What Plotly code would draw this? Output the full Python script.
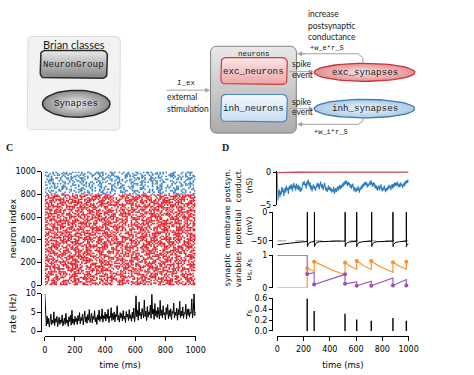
import numpy as np
import plotly.graph_objects as go

W, H = 474, 375

# ------------------------------------------------------------------ data
# Panel C: raster (hex-encoded spike bitmap, 10 ms bins x 12.5-neuron rows)
raster_exc_rows = [
    "9b3e1c7a52d8f04e6a1b3c9d7", "4f2a8c61e9b05d37a2c8f164b", "c71d3b9e0a48f26d5c1e7b93a",
    "2e8f5a13c6d97b04e2a5f8c36", "a5c09e7b2d4f1836ac5e9b27d", "63b8d1f4a07c2e95b3d6a18ec",
    "e1947c2b8f5a3d60e7c14b9a2", "5d2ab83e61c9f047d2e5a83bc", "b86e1f4c3a972d5e0b6c8f14a",
    "3f7c5a9d2e18b46a3c9e7d250", "8a41e6c3b7f029d5a8e3c6b17", "d2f97b15a6c48e3b0d7a2e9f4",
    "17c3ad8e5b294f61c7e3a5d8b", "f64b2c9a7e13d58b6f2c94a0e", "4a9e7d03c5f82b6e1a4d7c93f",
    "9c25f8b1e6a3d74c2f9b05e8a", "2b7d4e9c0f6a18e3b5c7d2a96", "e58a3c7f2d91b6e4a0c8f35d1",
    "7e13b9d64a2cf85e7b31d9a4c", "c4a6e2f8b53d907c4e1a6b28f", "58d1f7a3c9e26b4d85f3a1c7e",
    "a37c9b5e2f814d6a3c7e9b05d", "1f9e4a6d8c35b72e1f8d4a6c3", "b62d8f3a1e7c94b0d6a2f5e8c",
    "6c4f1b9e7a25d38c6f4b1e9a7", "d9a37e5c2b8f16a4d9e3c7b52", "3b8e6c1a9f4d27e5b8c1a6f3d",
    "8f52a4d7e3c196b8f2a5d4e7c", "e7c19b36a5d8f24c7e9b3a1d6", "4d6a2f8c1b97e35a4d6f2c8b9",
    "a19e7c4d35b2f86a1e9c7d4f2", "5f3b8e2a9c6d14f5b3e8a2c9d", "c82d5a7f1e4b96c8d2a7f5e3b",
    "27e9c3b6d8a51f27e3c9b6a8d", "9a4f6e1c2d7b38a9f4e6c1d2b", "e3b5d9a7c2f641e8b5d0a7c2f",
    "6d1a8f3e5bc92746d1f8a3e5c", "b2f7c4e9a1d6835b2c7f4e9a0", "1c8e3a5d7f29b4c1e8a3d5f7b",
    "f5a2d7c1b8e394f5d2a7c1e8b", "47b9e1a3f6c5d827b4e9a1f3c", "8e3c6b5d2a9f714e8c3b6d5a2",
    "d6f1a8b4c3e2957d6a1f8c4b3", "2a9d73f6e1b84c52d9a7f3e6b", "c1e5b9d8a2f7364c5e1d9b8a2",
    "5b7f3e2c6da19a48f7b3c2e6d", "9e2a8c5b1f4d763e9a2c5f8b1", "e4c6d1a9f3b5827a4e6c1d9f3",
    "36a8fb2d5c9e1e47a3f82b5dc", "a8d3c6f1b92e75a8c3d6f1a9b", "7f1b9a4e2dc63f81b7a9e4d2c",
    "d3e8a5c7b1f92d6e3a8c5b7f1", "1b6c4e8f3a7d59b2c6b4a8e3f", "f9a5e2d4c8b13a79e5f2d4b8c",
    "64d2b7f9e1c8a564b2d7e9f1a", "b7e3f1a6d5c2984f7b3e1d6a5", "2c9a1d5b8e3f7c6a2c9d5e8b3",
    "e8f4c6b2a7d193e8c4f6a2b7d", "5a3d7f9c1e6b82a5d3a7f9e1c", "9d6b3a2e8f14c7d9b6d3e2a8f",
    "c5f8e3b7d2a964fc8e5b3d7a2", "3e2a9c8d6bf5173e9a2dc6b8f", "a7c4b5e1f9d83a6b7c4e1f5d9",
    "6b9f2d3a7ce45b86f2b9a3d7e",
]
raster_inh_rows = [
    "4a1820c5139204a8610c25a83", "91048a2c065038124c9a06148", "2c6051894a0a263c05189a241",
    "8052c3a1096c0841a52c03986", "531a08c2450968a1c034a5812", "0a9c42150c8a3160492c51a08",
    "c2083a65140c9825a10c4836a", "16a520948c32a05c81640a25c", "a40c91532a80c461a9230548a",
    "3850a6c0184a5290c36a18042", "5c2148a0631950ca2684c1a39", "09a361c852a0c416a35804a1c",
    "68145a290c5386a0c2149a563", "a2c905418a2c0698a5103c84a", "1496c0a25a8c1325096a1c248",
    "c50a2a8c361a490c5a2a8613c",
]
raster_bin_ms = 10
raster_row_neurons = 12.5

# Panel C: population rate (Hz), every 5 ms
rate_t = list(range(0, 1001, 5))
rate_hz = [
    10, 3.2, 1.5, 4.1, 2.0, 3.5, 1.2, 2.8, 4.6, 1.8, 3.0, 2.2, 5.2, 1.6, 3.4, 2.5, 4.0, 1.3, 2.9, 3.8, 1.9,
    3.1, 2.4, 4.4, 1.5, 2.7, 3.6, 1.9, 4.8, 2.3, 3.0, 1.4, 3.9, 2.6, 4.3, 1.7, 5.6, 2.2, 3.3, 1.8, 4.0,
    2.6, 3.5, 1.9, 4.2, 2.8, 5.0, 2.1, 3.7, 2.9, 4.6, 1.8, 3.4, 5.4, 2.5, 3.9, 2.2, 4.5, 3.0, 5.8, 2.4,
    3.6, 4.9, 2.3, 4.1, 3.2, 5.5, 2.6, 3.8, 1.9, 4.4, 3.1, 5.7, 2.7, 4.0, 3.3, 6.0, 2.5, 4.2, 3.4, 5.1,
    2.8, 4.6, 3.5, 5.9, 2.4, 4.0, 3.7, 6.3, 2.9, 4.8, 3.2, 5.2, 2.6, 4.5, 3.9, 6.8, 3.0, 4.3, 2.5, 5.0,
    3.6, 4.7, 2.8, 5.5, 3.3, 4.1, 2.4, 5.3, 3.8, 4.6, 2.9, 5.8, 3.4, 4.4, 2.7, 5.1, 3.5, 6.2, 2.6, 4.3,
    9.4, 3.9, 5.6, 3.0, 7.8, 4.2, 5.0, 3.3, 6.1, 4.5, 3.6, 8.3, 4.0, 5.4, 2.9, 6.6, 3.8, 5.2, 4.4, 7.0,
    3.5, 9.8, 4.6, 5.9, 3.2, 7.4, 4.1, 5.5, 3.7, 6.4, 4.8, 3.3, 8.2, 4.2, 5.7, 3.6, 6.8, 4.4, 5.0, 3.1,
    6.3, 4.5, 7.1, 3.4, 5.6, 4.0, 6.0, 3.2, 5.3, 4.7, 7.5, 3.6, 5.1, 4.2, 6.2, 3.0, 5.8, 4.4, 8.0, 3.7,
    5.4, 4.1, 6.5, 3.5, 5.0, 4.6, 7.2, 3.3, 5.9, 4.3, 6.0, 3.8, 5.2, 4.8, 8.6, 3.6, 5.5, 9.9, 4.2, 5.1,
]

# Panel D: postsynaptic conductances (nS)
g_t = list(range(0, 1001, 5))
g_inh = [
    0, -4.3, -3.2, -2.6, -3.8, -2.9, -3.4, -2.2, -3.0, -2.5, -3.6, -2.8, -2.3, -3.1, -2.0, -2.7, -2.4, -3.3, -2.1, -2.6, -1.9,
    -2.5, -1.8, -2.9, -2.2, -1.6, -2.4, -2.0, -2.8, -1.7, -2.3, -2.6, -1.9, -2.7, -2.1, -3.0, -2.4, -2.8, -2.2, -1.5, -1.9,
    -1.3, -2.0, -1.7, -2.5, -1.4, -1.9, -1.1, -1.6, -2.2, -1.5, -2.6, -2.0, -2.9, -2.3, -1.8, -2.5, -2.1, -2.8, -2.4, -1.9,
    -1.6, -2.3, -1.7, -2.6, -2.0, -1.4, -1.9, -2.4, -1.8, -2.7, -2.2, -1.6, -2.1, -2.8, -2.3, -3.0, -2.5, -2.0, -2.7, -2.2,
    -2.8, -2.4, -3.1, -2.6, -2.9, -2.2, -3.3, -2.7, -2.4, -3.0, -2.5, -2.1, -2.8, -2.3, -1.9, -2.6, -2.0, -2.4, -1.7, -2.2,
    -1.5, -2.0, -1.3, -1.8, -1.2, -1.7, -2.1, -1.4, -1.9, -1.6, -2.3, -1.8, -2.5, -2.0, -1.7, -2.4, -2.9, -2.2, -2.6, -3.0,
    -2.4, -2.8, -2.1, -2.6, -3.1, -2.3, -2.7, -2.0, -2.5, -1.8, -2.2, -1.6, -2.0, -1.4, -1.9, -1.5, -2.3, -1.7, -2.1, -1.8,
    -1.4, -1.9, -1.2, -1.7, -2.2, -1.5, -2.0, -1.6, -2.4, -1.9, -2.6, -2.1, -2.8, -2.3, -2.0, -2.7, -2.2, -1.8, -2.5, -2.9,
    -2.3, -2.7, -2.0, -2.5, -3.0, -2.4, -2.8, -2.2, -2.6, -1.9, -2.4, -2.0, -2.7, -2.1, -1.8, -2.5, -1.7, -2.2, -1.5, -2.0,
    -1.6, -2.1, -1.4, -1.9, -2.3, -1.7, -2.2, -1.5, -2.0, -1.8, -2.4, -1.9, -1.6, -2.1, -1.3, -1.8, -1.2, -1.6, -1.1, -1.5,
]
ge_t = list(range(0, 1001, 50))
g_exc = [0.0, 0.05, 0.03, 0.06, 0.04, 0.07, 0.05, 0.03, 0.06, 0.05, 0.08, 0.04,
         0.06, 0.05, 0.07, 0.04, 0.06, 0.05, 0.07, 0.05, 0.06]

# Panel D: membrane potential (mV)
v_t = [0, 20, 60, 100, 150, 200, 229, 229, 229.5, 231, 236, 246, 260, 283, 283, 283.5, 285, 290, 300, 320,
       360, 400, 450, 517, 517, 517.5, 519, 524, 534, 550, 580, 605, 605, 605.5, 607, 612, 622, 650, 690,
       719, 719, 719.5, 721, 726, 736, 760, 820, 881, 881, 881.5, 883, 888, 898, 930, 983, 983, 983.5,
       985, 990, 1000]
v_mV = [-57, -56, -55, -54, -53, -52, -51, 0, -60, -59, -56, -53, -52, -51, 0, -60, -59, -56, -53, -51.5,
        -51, -51, -50.5, -50.5, 0, -60, -59, -56, -53, -52, -51, -50.5, 0, -60, -59, -56, -53, -51.5, -51,
        -50.5, 0, -60, -59, -56, -53, -51.5, -51, -50.5, 0, -60, -59, -56, -53, -51.5, -50.5, 0, -60,
        -59, -56, -55]
v_threshold = -50

# Panel D: synaptic variables
u_t = [0, 228, 228, 281, 281, 330, 380, 430, 480, 516, 516, 560, 605, 605, 660, 716, 716, 760, 810, 881,
       881, 930, 983, 983, 995]
u_S = [0, 0, 0.6, 0.5, 0.8, 0.7, 0.6, 0.52, 0.45, 0.41, 0.77, 0.65, 0.56, 0.82, 0.67, 0.56, 0.82, 0.7,
       0.6, 0.47, 0.78, 0.66, 0.57, 0.8, 0.79]
x_t = [0, 228, 228, 281, 281, 400, 516, 516, 605, 605, 716, 716, 881, 881, 983, 983, 995]
x_S = [1, 1, 0.42, 0.46, 0.1, 0.26, 0.41, 0.12, 0.18, 0.06, 0.2, 0.06, 0.3, 0.07, 0.25, 0.07, 0.08]
spike_t = [228, 281, 516, 605, 716, 881, 983]
u_mark = [0.6, 0.8, 0.77, 0.82, 0.82, 0.78, 0.8]
x_mark_t = [228, 281, 516, 516, 605, 716, 881, 983]
x_mark = [0.42, 0.1, 0.41, 0.12, 0.06, 0.06, 0.07, 0.07]
r_S = [0.6, 0.37, 0.32, 0.21, 0.19, 0.24, 0.19]

# ------------------------------------------------------------------ helpers
def px(x):
    return x / W


def py(y):
    return 1 - y / H


def decode(rows, n0):
    ts, ns = [], []
    for r, s in enumerate(rows):
        s = s.replace(" ", "")
        bits = bin(int(s, 16))[2:].zfill(len(s) * 4)[:100]
        for k, b in enumerate(bits):
            if b == "1":
                ts.append(raster_bin_ms * k + raster_bin_ms / 2)
                ns.append(n0 + raster_row_neurons * r + raster_row_neurons / 2)
    return ts, ns


def rrect(x0, y0, x1, y1, r, n=7):
    xs, ys = [], []
    for cx, cy, a0, a1 in [(x1 - r, y0 + r, -90, 0), (x1 - r, y1 - r, 0, 90),
                           (x0 + r, y1 - r, 90, 180), (x0 + r, y0 + r, 180, 270)]:
        for a in np.radians(np.linspace(a0, a1, n)):
            xs.append(cx + r * np.cos(a))
            ys.append(cy + r * np.sin(a))
    xs.append(xs[0]); ys.append(ys[0])
    return xs, ys


def ell(cx, cy, rx, ry, n=60):
    a = np.linspace(0, 2 * np.pi, n)
    return list(cx + rx * np.cos(a)), list(cy + ry * np.sin(a))


fig = go.Figure()

# ------------------------------------------------------------------ panel C
ex_t, ex_n = decode(raster_exc_rows, 0)
in_t, in_n = decode(raster_inh_rows, 800)
fig.add_trace(go.Scatter(x=ex_t, y=ex_n, mode="markers", xaxis="x", yaxis="y",
                         marker=dict(size=1.8, color="#e3232b", line=dict(width=0))))
fig.add_trace(go.Scatter(x=in_t, y=in_n, mode="markers", xaxis="x", yaxis="y",
                         marker=dict(size=1.9, color="#3f86c4", line=dict(width=0))))
fig.add_trace(go.Scatter(x=rate_t, y=rate_hz, mode="lines", xaxis="x2", yaxis="y2",
                         line=dict(color="black", width=1)))

# ------------------------------------------------------------------ panel D
fig.add_trace(go.Scatter(x=g_t, y=g_inh, mode="lines", xaxis="x3", yaxis="y3",
                         line=dict(color="#2f7dc0", width=1.1)))
fig.add_trace(go.Scatter(x=ge_t, y=g_exc, mode="lines", xaxis="x3", yaxis="y3",
                         line=dict(color="#d0494c", width=1.3)))
fig.add_trace(go.Scatter(x=[0, 1000], y=[v_threshold, v_threshold], mode="lines", xaxis="x4", yaxis="y4",
                         line=dict(color="#999999", width=1, dash="dash")))
fig.add_trace(go.Scatter(x=v_t, y=v_mV, mode="lines", xaxis="x4", yaxis="y4",
                         line=dict(color="black", width=1)))
fig.add_trace(go.Scatter(x=x_t, y=x_S, mode="lines", xaxis="x5", yaxis="y5",
                         line=dict(color="#9b4fb3", width=1.1)))
fig.add_trace(go.Scatter(x=u_t, y=u_S, mode="lines", xaxis="x5", yaxis="y5",
                         line=dict(color="#ff8c1e", width=1.1)))
fig.add_trace(go.Scatter(x=spike_t, y=u_mark, mode="markers", xaxis="x5", yaxis="y5", cliponaxis=False,
                         marker=dict(size=4, color="#ff8c1e")))
fig.add_trace(go.Scatter(x=x_mark_t, y=x_mark, mode="markers", xaxis="x5", yaxis="y5", cliponaxis=False,
                         marker=dict(size=4, color="#9b4fb3")))
stem_x, stem_y = [], []
for t, r in zip(spike_t, r_S):
    stem_x += [t, t, None]
    stem_y += [0, r, None]
fig.add_trace(go.Scatter(x=stem_x, y=stem_y, mode="lines", xaxis="x6", yaxis="y6",
                         line=dict(color="black", width=1.4)))

# ------------------------------------------------------------------ diagram (pixel overlay)
def box(xs, ys, line_color, lw, c_top, c_bot=None, grad="vertical"):
    kw = dict(fillcolor=c_top)
    if c_bot is not None:
        if grad == "vertical":
            kw = dict(fillgradient=dict(type="vertical", colorscale=[[0, c_top], [1, c_bot]],
                                        start=min(ys), stop=max(ys)))
        else:
            kw = dict(fillgradient=dict(type="radial", colorscale=[[0, c_top], [1, c_bot]]))
    fig.add_trace(go.Scatter(x=xs, y=ys, mode="lines", fill="toself", xaxis="x9", yaxis="y9",
                             line=dict(color=line_color, width=lw), hoverinfo="skip", **kw))


box(*rrect(25, 33.3, 120.7, 129.3, 5), "#dcdcdc", 1, "#f2f2f2")
box(*rrect(38.3, 47.7, 107.3, 76, 5), "#2a2a2a", 1.5, "#e6e6e6", "#7c7c7c")
box(*ell(75.3, 102.2, 34.7, 13.8), "#2a2a2a", 1.5, "#eeeeee", "#8a8a8a", grad="radial")
box(*rrect(213.3, 43.3, 301.7, 132.3, 6), "#808080", 1, "#e8e8e8", "#a9a9a9")
box(*rrect(224, 55, 292.3, 82.3, 5), "#d03a3f", 1.2, "#fbe3e3", "#e9a2a4")
box(*rrect(224, 92.7, 292.3, 120.7, 5), "#4f86b8", 1.2, "#eef5fb", "#c5dcef")
box(*ell(371.7, 70, 51.7, 9.2), "#c8343a", 1.3, "#fbe6e6", "#e38f92", grad="radial")
box(*ell(371.7, 107.2, 51.7, 9.5), "#3f78ad", 1.3, "#eef5fb", "#a9c9e6", grad="radial")

arrow_col = "#a3a3a3"
fig.add_trace(go.Scatter(x=[305, 365, 370, 370], y=[51, 51, 55, 60.5], mode="lines", xaxis="x9", yaxis="y9",
                         line=dict(color=arrow_col, width=1), hoverinfo="skip"))
fig.add_trace(go.Scatter(x=[305, 365, 370, 370], y=[123.3, 123.3, 120, 116.5], mode="lines", xaxis="x9",
                         yaxis="y9", line=dict(color=arrow_col, width=1), hoverinfo="skip"))

annotations = []


def arrow(x0, y0, x1, y1):
    annotations.append(dict(x=x1, y=y1, ax=x0, ay=y0, xref="x9", yref="y9", axref="x9", ayref="y9",
                            text="", showarrow=True, arrowhead=2, arrowsize=1, arrowwidth=1,
                            arrowcolor=arrow_col))


arrow(166.7, 88.3, 213, 88.3)
arrow(293, 69.3, 319.5, 69.3)
arrow(293, 107.3, 319.5, 107.3)
arrow(312, 51, 302.5, 51)
arrow(312, 123.3, 302.5, 123.3)

SANS = "Lato"
MONO = "Liberation Mono"


def label(text, x, y, size, family, anchor="center", color="#1a1a1a"):
    annotations.append(dict(text=text, x=x, y=y, xref="x9", yref="y9", showarrow=False,
                            xanchor=anchor, yanchor="middle",
                            font=dict(size=size, family=family, color=color)))


label("Brian classes", 72.5, 42, 11, SANS)
label("NeuronGroup", 72.8, 62, 9.2, MONO)
label("Synapses", 75.3, 102.2, 9.2, MONO)
label("neurons", 258, 51, 7.5, MONO)
label("exc_neurons", 258, 69, 9.2, MONO)
label("inh_neurons", 258, 106.7, 9.2, MONO)
label("I_ex", 188.5, 81, 7.5, MONO)
label("external", 167, 95.7, 8.5, SANS, "left")
label("stimulation", 167, 107.5, 8.5, SANS, "left")
label("spike", 295.3, 61.7, 8.5, SANS, "left")
label("event", 295.3, 72.7, 8.5, SANS, "left")
label("spike", 295.3, 100, 8.5, SANS, "left")
label("event", 295.3, 111, 8.5, SANS, "left")
label("exc_synapses", 371.7, 70, 9.2, MONO)
label("inh_synapses", 371.7, 107.2, 9.2, MONO)
label("increase", 311.5, 10.3, 8.5, SANS, "left")
label("postsynaptic", 311.5, 22.3, 8.5, SANS, "left")
label("conductance", 311.5, 33.7, 8.5, SANS, "left")
label("+w_e*r_S", 333, 45.5, 7, MONO)
label("+w_i*r_S", 337, 131, 7, MONO)
label("<b>C</b>", 7, 147.5, 10, "Liberation Serif")
label("<b>D</b>", 228.5, 147.5, 10, "Liberation Serif")

TF = "DejaVu Sans"


def ylab(text, x, y, size=7.8):
    annotations.append(dict(text=text, x=px(x), y=py(y), xref="paper", yref="paper", showarrow=False,
                            textangle=-90, xanchor="center", yanchor="middle",
                            font=dict(size=size, family=TF, color="black")))


ylab("neuron index", 11, 230, 9)
ylab("rate (Hz)", 11, 317, 9)
for lines, yc in [(["postsyn.", "conduct.", "(nS)"], 186),
                  (["membrane", "potential", "(mV)"], 228),
                  (["synaptic", "variables", "<i>u</i><sub>S</sub>, <i>x</i><sub>S</sub>"], 272)]:
    for txt, xc in zip(lines, [231, 242.5, 253]):
        ylab(txt, xc, yc)
ylab("<i>r</i><sub>S</sub>", 253, 317)

# ------------------------------------------------------------------ axes
def yax(dom, rng, pos, tickvals, ticktext=None):
    return dict(domain=[py(dom[1]), py(dom[0])], range=rng, anchor="free", position=px(pos),
                showline=True, linecolor="black", linewidth=1, ticks="outside", ticklen=3.5,
                tickwidth=1, tickcolor="black", tickvals=tickvals, ticktext=ticktext,
                showgrid=False, zeroline=False, tickfont=dict(size=8, family=TF, color="black"))


def xhidden(dom, anchor):
    return dict(domain=[px(dom[0]), px(dom[1])], range=[0, 1000], visible=False, anchor=anchor)


def xshown(dom, ypix):
    return dict(domain=[px(dom[0]), px(dom[1])], range=[0, 1000], anchor="free", position=py(ypix),
                showline=True, linecolor="black", linewidth=1, ticks="outside", ticklen=4,
                ticklabelstandoff=2,
                tickwidth=1, tickcolor="black", tickvals=[0, 200, 400, 600, 800, 1000],
                showgrid=False, zeroline=False, tickfont=dict(size=8, family=TF, color="black"),
                title=dict(text="time (ms)", font=dict(size=8.5, family=TF, color="black"), standoff=8))


CL = (43, 198)
DR = (282, 417)
fig.update_layout(
    width=W, height=H, margin=dict(l=0, r=0, t=0, b=0), showlegend=False,
    paper_bgcolor="white", plot_bgcolor="rgba(0,0,0,0)",
    xaxis=xhidden(CL, "y"),
    yaxis=yax((171.7, 288.3), [0, 1000], 39, [0, 200, 400, 600, 800, 1000]),
    xaxis2=xshown(CL, 340.5),
    yaxis2=yax((296.7, 335.7), [0, 10], 39, [0, 5, 10]),
    xaxis3=xhidden(DR, "y3"),
    yaxis3=yax((171, 206), [-5, 0.25], 281, [-5, 0]),
    xaxis4=xhidden(DR, "y4"),
    yaxis4=yax((213, 250), [-62.5, 0.5], 277, [-50, 0]),
    xaxis5=xhidden(DR, "y5"),
    yaxis5=yax((257.3, 290.7), [0, 1], 277, [0, 1]),
    xaxis6=xshown(DR, 340),
    yaxis6=yax((301.7, 335), [0, 0.6], 277, [0, 0.2, 0.4, 0.6], ["0.0", "0.2", "0.4", "0.6"]),
    xaxis9=dict(domain=[0, 1], range=[0, W], visible=False, anchor="y9"),
    yaxis9=dict(domain=[0, 1], range=[H, 0], visible=False, anchor="x9"),
    annotations=annotations,
)

fig.write_html("out.html", config={"displayModeBar": False, "staticPlot": True},
               post_script="document.body.style.margin='0';")
